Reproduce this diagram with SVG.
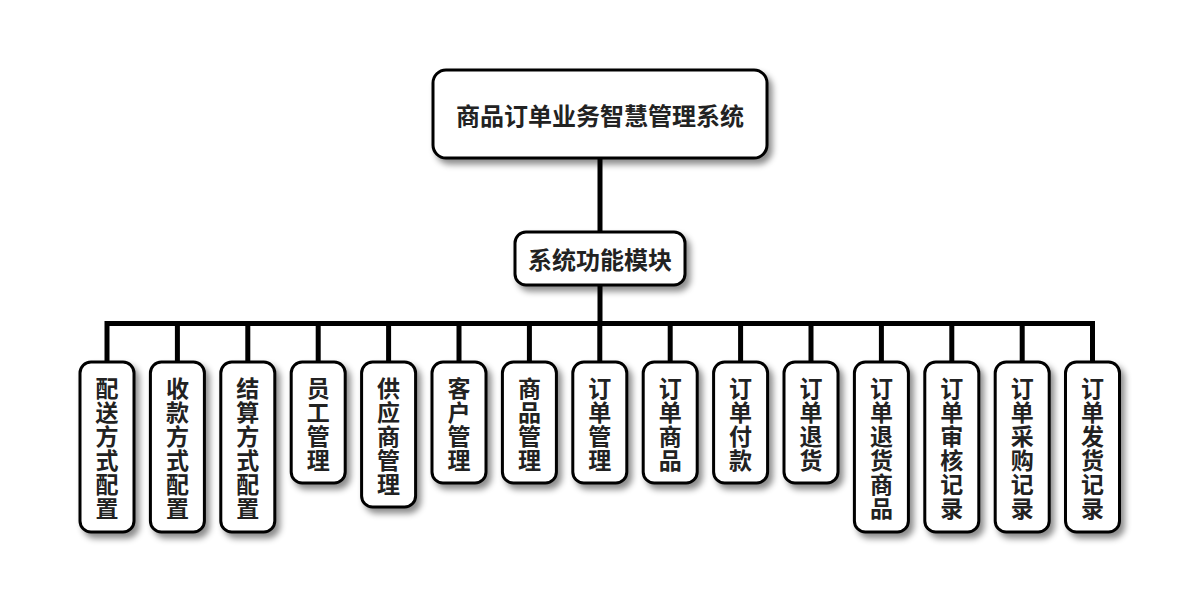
<svg xmlns="http://www.w3.org/2000/svg" width="1198" height="607" viewBox="0 0 1198 607">
  <defs>
    <filter id="shadow" x="-30%" y="-30%" width="160%" height="160%">
      <feDropShadow dx="4" dy="5" stdDeviation="3" flood-color="#000" flood-opacity="0.45"/>
    </filter>
  </defs>
  <style>
    .box { fill: #fff; stroke: #000; stroke-width: 3; filter: url(#shadow); }
    .wire { fill: none; stroke: #000; stroke-width: 5; }
    .t { font-family: "Noto Sans CJK SC", "Noto Sans", sans-serif; font-weight: bold; fill: #222; text-anchor: middle; dominant-baseline: central; }
    .big { font-size: 24px; }
    .leaf { font-size: 23px; }
  </style>
  <rect width="1198" height="607" fill="#fff"/>

  <!-- connectors -->
  <g id="connectors">
    <path class="wire" d="M600 158 V232 M600 285 V323.5"/>
    <path class="wire" d="M107 362 V323.5 H1092.5 V362"/>
    <path class="wire" d="M177.4 323.5 V362 M247.8 323.5 V362 M318.2 323.5 V362 M388.6 323.5 V362 M459 323.5 V362 M529.4 323.5 V362 M599.8 323.5 V362 M670.2 323.5 V362 M740.6 323.5 V362 M811 323.5 V362 M881.4 323.5 V362 M951.8 323.5 V362 M1022.2 323.5 V362"/>
  </g>

  <!-- root -->
  <g id="root">
    <rect class="box" x="433" y="70" width="334" height="88" rx="13"/>
    <text class="t big" x="600" y="114">商品订单业务智慧管理系统</text>
  </g>

  <!-- module -->
  <g id="modules">
    <rect class="box" x="515" y="232" width="170" height="53" rx="11"/>
    <text class="t big" x="600" y="258.5">系统功能模块</text>
  </g>

  <!-- leaves: one character per line -->
  <g id="n1">
    <rect class="box" x="80" y="362" width="54" height="170" rx="11"/>
    <text class="t leaf"><tspan x="107" y="387">配</tspan><tspan x="107" y="411">送</tspan><tspan x="107" y="435">方</tspan><tspan x="107" y="459">式</tspan><tspan x="107" y="483">配</tspan><tspan x="107" y="507">置</tspan></text>
  </g>
  <g id="n2">
    <rect class="box" x="150.4" y="362" width="54" height="170" rx="11"/>
    <text class="t leaf"><tspan x="177.4" y="387">收</tspan><tspan x="177.4" y="411">款</tspan><tspan x="177.4" y="435">方</tspan><tspan x="177.4" y="459">式</tspan><tspan x="177.4" y="483">配</tspan><tspan x="177.4" y="507">置</tspan></text>
  </g>
  <g id="n3">
    <rect class="box" x="220.8" y="362" width="54" height="170" rx="11"/>
    <text class="t leaf"><tspan x="247.8" y="387">结</tspan><tspan x="247.8" y="411">算</tspan><tspan x="247.8" y="435">方</tspan><tspan x="247.8" y="459">式</tspan><tspan x="247.8" y="483">配</tspan><tspan x="247.8" y="507">置</tspan></text>
  </g>
  <g id="n4">
    <rect class="box" x="291.2" y="362" width="54" height="121" rx="11"/>
    <text class="t leaf"><tspan x="318.2" y="387">员</tspan><tspan x="318.2" y="411">工</tspan><tspan x="318.2" y="435">管</tspan><tspan x="318.2" y="459">理</tspan></text>
  </g>
  <g id="n5">
    <rect class="box" x="361.6" y="362" width="54" height="145" rx="11"/>
    <text class="t leaf"><tspan x="388.6" y="387">供</tspan><tspan x="388.6" y="411">应</tspan><tspan x="388.6" y="435">商</tspan><tspan x="388.6" y="459">管</tspan><tspan x="388.6" y="483">理</tspan></text>
  </g>
  <g id="n6">
    <rect class="box" x="432" y="362" width="54" height="121" rx="11"/>
    <text class="t leaf"><tspan x="459" y="387">客</tspan><tspan x="459" y="411">户</tspan><tspan x="459" y="435">管</tspan><tspan x="459" y="459">理</tspan></text>
  </g>
  <g id="n7">
    <rect class="box" x="502.4" y="362" width="54" height="121" rx="11"/>
    <text class="t leaf"><tspan x="529.4" y="387">商</tspan><tspan x="529.4" y="411">品</tspan><tspan x="529.4" y="435">管</tspan><tspan x="529.4" y="459">理</tspan></text>
  </g>
  <g id="n8">
    <rect class="box" x="572.8" y="362" width="54" height="121" rx="11"/>
    <text class="t leaf"><tspan x="599.8" y="387">订</tspan><tspan x="599.8" y="411">单</tspan><tspan x="599.8" y="435">管</tspan><tspan x="599.8" y="459">理</tspan></text>
  </g>
  <g id="n9">
    <rect class="box" x="643.2" y="362" width="54" height="121" rx="11"/>
    <text class="t leaf"><tspan x="670.2" y="387">订</tspan><tspan x="670.2" y="411">单</tspan><tspan x="670.2" y="435">商</tspan><tspan x="670.2" y="459">品</tspan></text>
  </g>
  <g id="n10">
    <rect class="box" x="713.6" y="362" width="54" height="121" rx="11"/>
    <text class="t leaf"><tspan x="740.6" y="387">订</tspan><tspan x="740.6" y="411">单</tspan><tspan x="740.6" y="435">付</tspan><tspan x="740.6" y="459">款</tspan></text>
  </g>
  <g id="n11">
    <rect class="box" x="784" y="362" width="54" height="121" rx="11"/>
    <text class="t leaf"><tspan x="811" y="387">订</tspan><tspan x="811" y="411">单</tspan><tspan x="811" y="435">退</tspan><tspan x="811" y="459">货</tspan></text>
  </g>
  <g id="n12">
    <rect class="box" x="854.4" y="362" width="54" height="170" rx="11"/>
    <text class="t leaf"><tspan x="881.4" y="387">订</tspan><tspan x="881.4" y="411">单</tspan><tspan x="881.4" y="435">退</tspan><tspan x="881.4" y="459">货</tspan><tspan x="881.4" y="483">商</tspan><tspan x="881.4" y="507">品</tspan></text>
  </g>
  <g id="n13">
    <rect class="box" x="924.8" y="362" width="54" height="170" rx="11"/>
    <text class="t leaf"><tspan x="951.8" y="387">订</tspan><tspan x="951.8" y="411">单</tspan><tspan x="951.8" y="435">审</tspan><tspan x="951.8" y="459">核</tspan><tspan x="951.8" y="483">记</tspan><tspan x="951.8" y="507">录</tspan></text>
  </g>
  <g id="n14">
    <rect class="box" x="995.2" y="362" width="54" height="170" rx="11"/>
    <text class="t leaf"><tspan x="1022.2" y="387">订</tspan><tspan x="1022.2" y="411">单</tspan><tspan x="1022.2" y="435">采</tspan><tspan x="1022.2" y="459">购</tspan><tspan x="1022.2" y="483">记</tspan><tspan x="1022.2" y="507">录</tspan></text>
  </g>
  <g id="n15">
    <rect class="box" x="1065.5" y="362" width="54" height="170" rx="11"/>
    <text class="t leaf"><tspan x="1092.5" y="387">订</tspan><tspan x="1092.5" y="411">单</tspan><tspan x="1092.5" y="435">发</tspan><tspan x="1092.5" y="459">货</tspan><tspan x="1092.5" y="483">记</tspan><tspan x="1092.5" y="507">录</tspan></text>
  </g>
</svg>
